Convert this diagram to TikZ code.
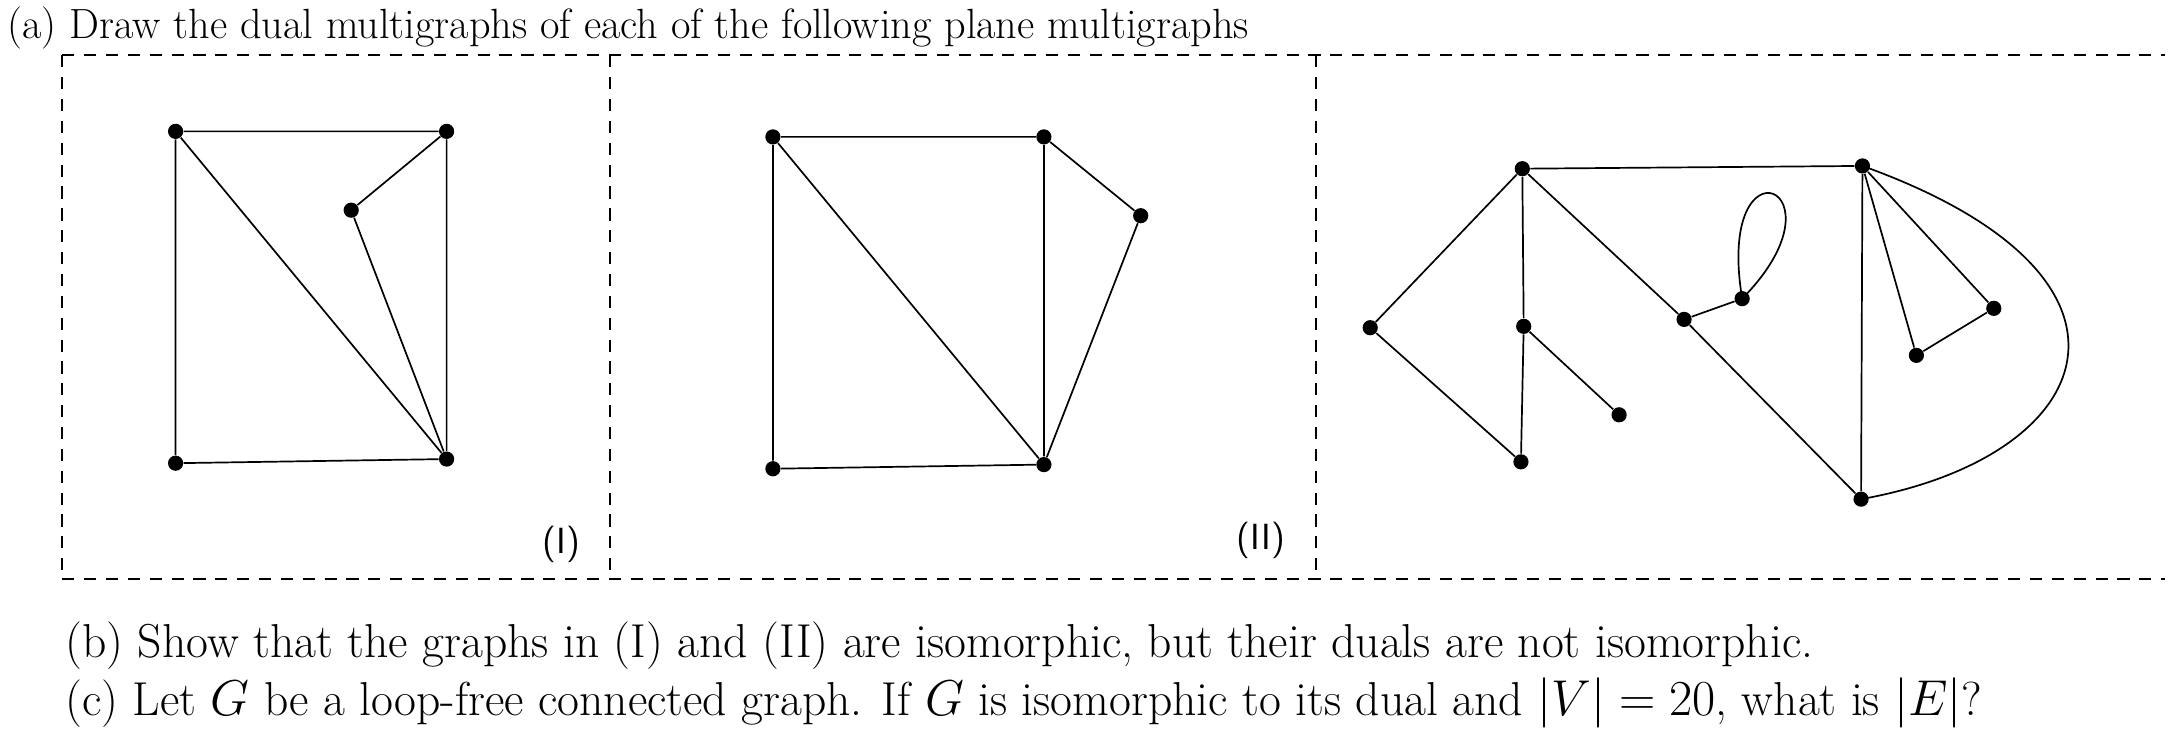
\documentclass[tikz,border=0pt]{standalone}
\begin{document}
\begin{tikzpicture}[x=0.02cm,y=-0.02cm,
  v/.style={circle,fill=black,inner sep=0pt,minimum size=0.22cm},
  e/.style={line width=0.7pt},
  dl/.style={dash pattern=on 5pt off 4pt,line width=0.7pt},
  txt/.style={anchor=west,inner sep=0pt}]
\useasboundingbox (0,0) rectangle (1568,535);
\node[txt,font=\fontsize{17.4}{20}\selectfont] (ta) at (5,20) {(a) Draw the dual multigraphs of each of the following plane multigraphs};
\node[txt,font=\fontsize{19.6}{23}\selectfont] (tb) at (47,467) {(b) Show that the graphs in (I) and (II) are isomorphic, but their duals are not isomorphic.};
\node[txt,font=\fontsize{19.6}{23}\selectfont] (tc) at (47,508) {(c) Let $G$ be a loop-free connected graph. If $G$ is isomorphic to its dual and $|V|=20$, what is $|E|$?};
\draw[dl] (45,40) -- (1566,40);
\draw[dl] (45,419) -- (1566,419);
\draw[dl] (45,40) -- (45,419);
\draw[dl] (441,40) -- (441,419);
\draw[dl] (952,40) -- (952,419);
% I
\node[v] (a1) at (127,95) {}; \node[v] (a2) at (323,95) {}; \node[v] (a3) at (254,152) {};
\node[v] (a4) at (127,335) {}; \node[v] (a5) at (323,332) {};
\draw[e] (a1)--(a2) (a1)--(a4) (a4)--(a5) (a1)--(a5) (a2)--(a5) (a2)--(a3) (a3)--(a5);
\node[font=\sffamily\fontsize{15}{18}\selectfont] (l1) at (406,394) {(I)};
% II
\node[v] (b1) at (559,99) {}; \node[v] (b2) at (755,99) {}; \node[v] (b3) at (825,156) {};
\node[v] (b4) at (559,339) {}; \node[v] (b5) at (755,336) {};
\draw[e] (b1)--(b2) (b1)--(b4) (b4)--(b5) (b1)--(b5) (b2)--(b5) (b2)--(b3) (b3)--(b5);
\node[font=\sffamily\fontsize{15}{18}\selectfont] (l2) at (912,391) {(II)};
% III
\node[v] (A) at (1101,122) {}; \node[v] (B) at (1347,120) {}; \node[v] (C) at (991,237) {};
\node[v] (D) at (1102,236) {}; \node[v] (E) at (1100,334) {}; \node[v] (F) at (1171,300) {};
\node[v] (G) at (1218,231) {}; \node[v] (H) at (1260,216) {}; \node[v] (I) at (1346,361) {};
\node[v] (J) at (1442,223) {}; \node[v] (K) at (1386,257) {};
\draw[e] (A)--(B) (A)--(C) (A)--(D) (D)--(E) (C)--(E) (D)--(F) (A)--(G) (G)--(I) (G)--(H)
  (B)--(I) (B)--(K) (K)--(J) (B)--(J);
\draw[e] (H.center) .. controls (1240,95) and (1340,135) .. (H.center);
\draw[e] (B.center) .. controls (1570,200) and (1520,330) .. (I.center);
\end{tikzpicture}
\end{document}
